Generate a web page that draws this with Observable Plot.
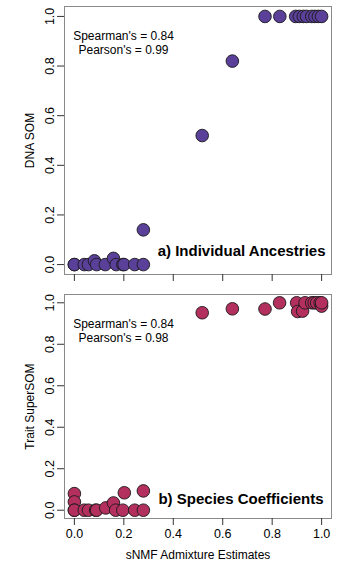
<!DOCTYPE html>
<html>
<head>
<meta charset="utf-8">
<script src="https://cdn.jsdelivr.net/npm/d3@7"></script>
<script src="https://cdn.jsdelivr.net/npm/@observablehq/plot@0.6"></script>
<style>
  html, body { margin: 0; padding: 0; background: #fff; }
  #chart { width: 360px; }
  #chart svg { display: block; }
</style>
</head>
<body>
<div id="chart"></div>
<script>
// ---- data ----
const dnaX = [0.00, 0.00, 0.04, 0.057, 0.081, 0.09, 0.125, 0.158, 0.169, 0.196, 0.201, 0.244, 0.279,
              0.279, 0.517, 0.639,
              0.771, 0.831, 0.895, 0.91, 0.926, 0.939, 0.96, 0.973, 0.987, 1.0];
const dnaY = [0, 0, 0, 0, 0.015, 0, 0, 0.025, 0, 0, 0, 0, 0,
              0.14, 0.52, 0.82,
              1, 1, 1, 1, 1, 1, 1, 1, 1, 1];

const traitX = [0, 0, 0, 0, 0.04, 0.057, 0.086, 0.09, 0.127, 0.158, 0.167, 0.196, 0.202, 0.244, 0.279, 0.279,
                0.517, 0.639, 0.771, 0.83, 0.899, 0.903, 0.923, 0.933, 0.96, 0.97, 0.98, 0.994, 1.0, 1.0];
const traitY = [0.08, 0.04, 0, 0, 0, 0, 0, 0, 0.011, 0.035, 0, 0, 0.084, 0, 0, 0.093,
                0.952, 0.971, 0.97, 1.0, 1.0, 0.958, 0.96, 1.0, 1.0, 1.0, 1.0, 1.0, 0.984, 1.0];

const tickValues = [0, 0.2, 0.4, 0.6, 0.8, 1.0];
const panelLabels = ["a) Individual Ancestries", "b) Species Coefficients"];
const yTitles = ["DNA SOM", "Trait SuperSOM"];
const xTitle = "sNMF Admixture Estimates";
const statsText = ["Spearman's = 0.84\nPearson's = 0.99", "Spearman's = 0.84\nPearson's = 0.98"];
const colors = ["#5b4099", "#b3305e"];

const FONT = "'Liberation Sans', Arial, Helvetica, sans-serif";
const fmt = d3.format(".1f");

function panel({xs, ys, color, yTitle, label, stats, height, marginTop, marginBottom, showX, labelDx, labelDy}) {
  const data = xs.map((x, i) => ({x, y: ys[i]}));
  const marks = [
    Plot.frame({stroke: "#8a8a8a", strokeWidth: 1}),
    Plot.axisY({ticks: tickValues, tickSize: 7, tickFormat: () => "", stroke: "#333", label: null}),
    Plot.text(tickValues, {y: d => d, text: d => fmt(d), frameAnchor: "left", rotate: -90,
      dx: -15, textAnchor: "middle", lineAnchor: "middle", fontSize: 12.5, fill: "#000"}),
    Plot.text([yTitle], {frameAnchor: "left", rotate: -90, dx: -34, textAnchor: "middle",
      lineAnchor: "middle", fontSize: 12, fill: "#000"}),
    showX
      ? Plot.axisX({ticks: tickValues, tickSize: 7, tickPadding: 4, tickFormat: fmt, fontSize: 12.5, stroke: "#333", fill: "#000", label: null})
      : Plot.axisX({ticks: tickValues, tickSize: 7, tickFormat: () => "", stroke: "#333", label: null}),
    Plot.text([stats], {frameAnchor: "top-left", dx: 59, dy: 36, textAnchor: "middle",
      lineAnchor: "middle", lineHeight: 1.12, fontSize: 12, fill: "#000"}),
    Plot.text([label], {frameAnchor: "bottom-right", dx: labelDx, dy: labelDy, textAnchor: "end",
      lineAnchor: "middle", fontSize: 15, fontWeight: "bold", fill: "#000"}),
    Plot.dot(data, {x: "x", y: "y", r: 6.3, fill: color, stroke: "#1a1a1a", strokeWidth: 0.9})
  ];
  if (showX) {
    marks.push(Plot.text([xTitle], {frameAnchor: "bottom", dy: 37, textAnchor: "middle",
      lineAnchor: "middle", fontSize: 12, fill: "#000"}));
  }
  return Plot.plot({
    width: 360,
    height,
    marginLeft: 64,
    marginRight: 29,
    marginTop,
    marginBottom,
    style: {fontFamily: FONT, fontSize: "12px", background: "#fff"},
    x: {domain: [-0.04, 1.04], axis: null},
    y: {domain: [-0.04, 1.04], axis: null},
    marks
  });
}

const chart = document.getElementById("chart");
chart.appendChild(panel({xs: dnaX, ys: dnaY, color: colors[0], yTitle: yTitles[0], label: panelLabels[0],
  stats: statsText[0], height: 285, marginTop: 6, marginBottom: 11, showX: false, labelDx: -6, labelDy: -23}));
chart.appendChild(panel({xs: traitX, ys: traitY, color: colors[1], yTitle: yTitles[1], label: panelLabels[1],
  stats: statsText[1], height: 291, marginTop: 9, marginBottom: 58, showX: true, labelDx: -8, labelDy: -19}));
</script>
</body>
</html>
